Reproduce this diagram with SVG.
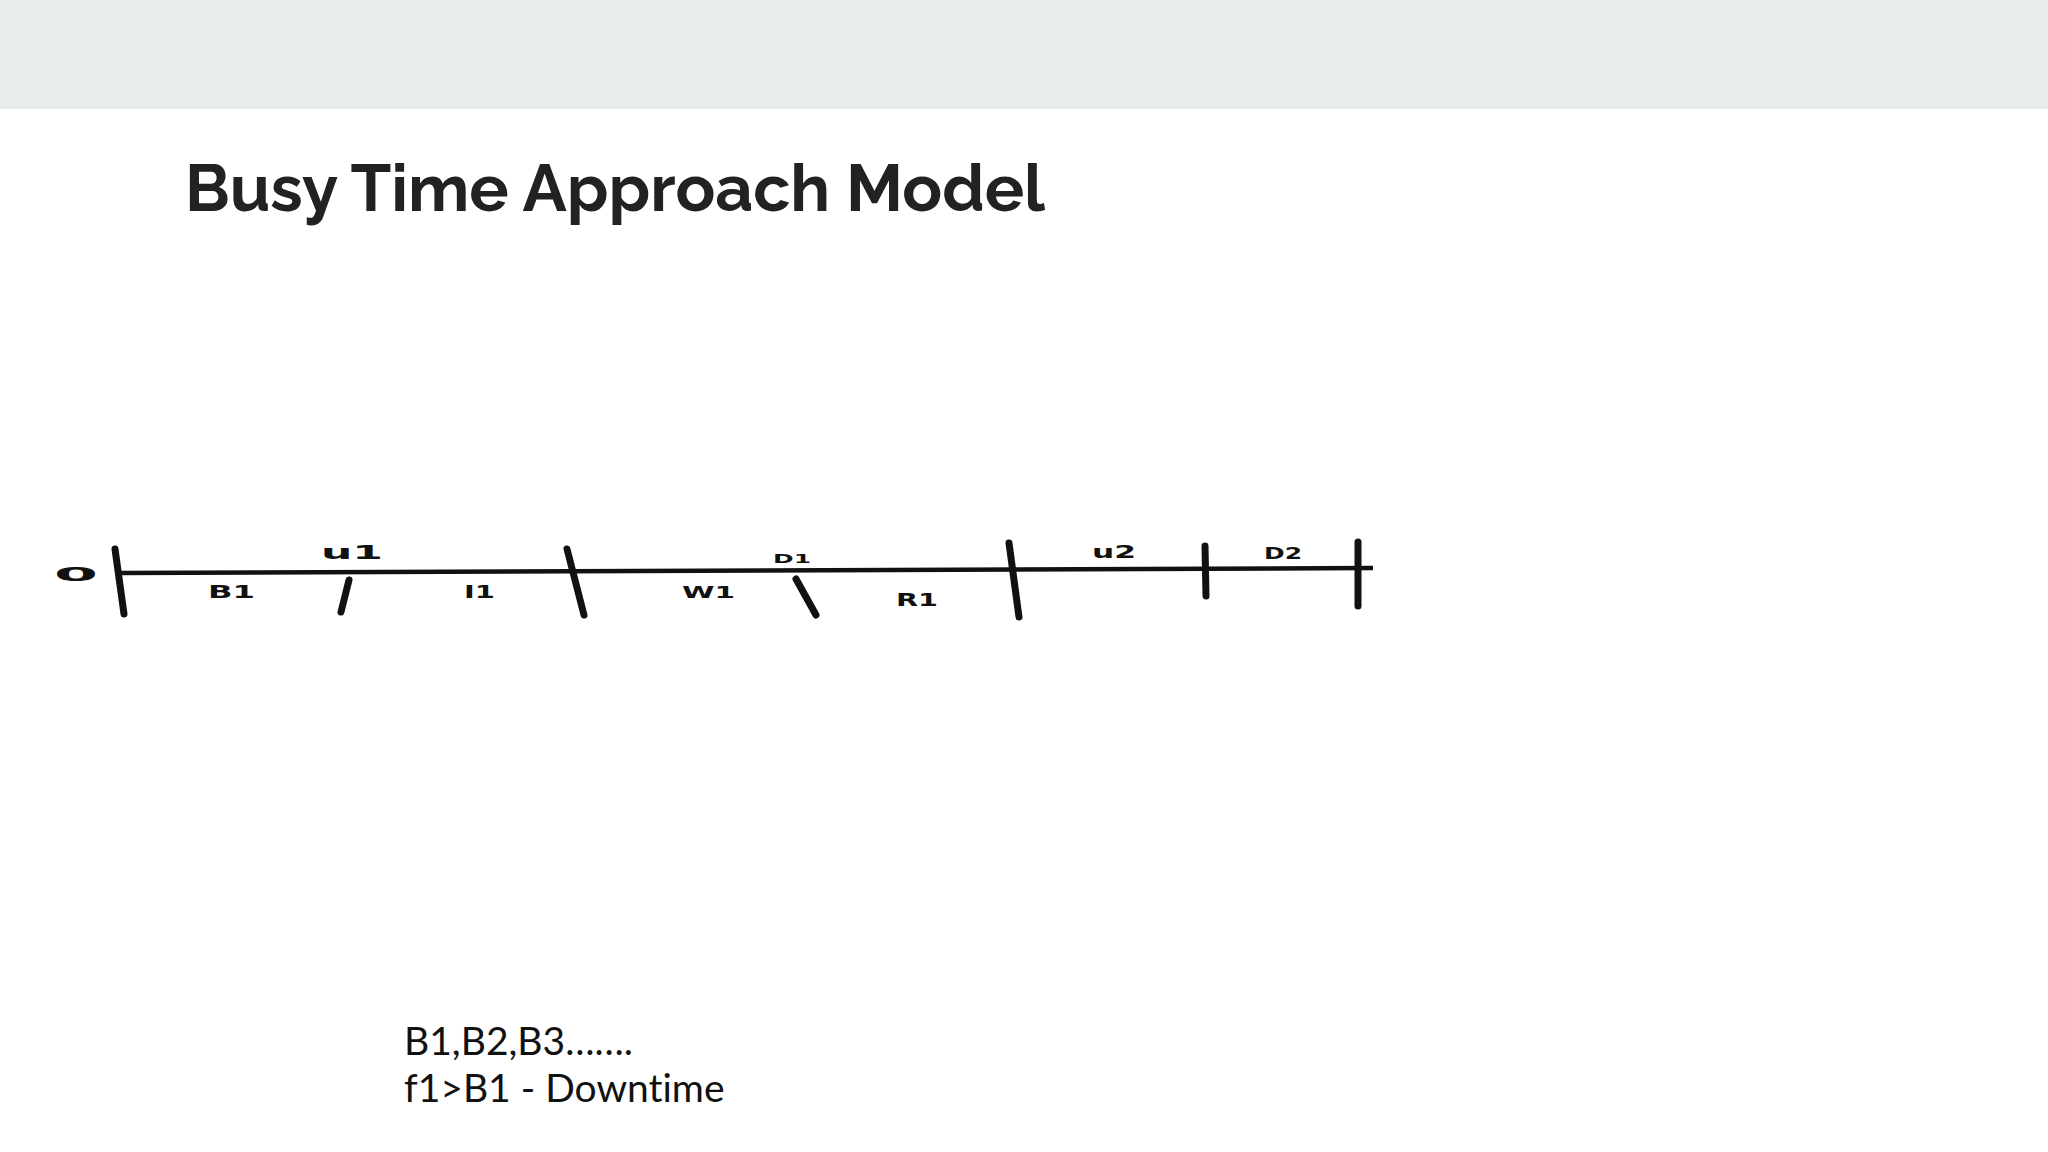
<svg xmlns="http://www.w3.org/2000/svg" width="2048" height="1152" viewBox="0 0 2048 1152">
<style>
.lbl{font-family:"DejaVu Sans","Liberation Sans",sans-serif;font-weight:bold;fill:#111;}
.tick{stroke:#111;stroke-width:7;stroke-linecap:round;fill:none;}
.axis{stroke:#111;stroke-width:4.5;fill:none;}
.note{font-family:Lato,"Liberation Sans",sans-serif;font-size:39px;fill:#111;font-variant-ligatures:none;}
</style>
<rect x="0" y="0" width="2048" height="1152" fill="#ffffff"/>
<rect id="header" x="0" y="0" width="2048" height="109" fill="#e8edeb"/>
<g id="title"><text x="185" y="211" font-family="Raleway,Lato,'Liberation Sans',sans-serif" font-weight="bold" font-size="65" fill="#222" textLength="860" lengthAdjust="spacingAndGlyphs">Busy Time Approach Model</text></g>
<g id="connectors">
<path class="axis" d="M118 573 L1373 568"/>
<path class="tick" d="M115 549 L124 614"/>
<path class="tick" d="M349 580 L341 612"/>
<path class="tick" d="M567 549 L584 615"/>
<path class="tick" d="M796 579 L816 615"/>
<path class="tick" d="M1009 543 L1019 617"/>
<path class="tick" d="M1205 546 L1206 596"/>
<path class="tick" d="M1358 542 L1358 606"/>
</g>
<g id="origin"><text class="lbl" x="54" y="581" font-size="20" textLength="44" lengthAdjust="spacingAndGlyphs">0</text></g>
<g id="u1"><text class="lbl" x="321" y="559" font-size="19" textLength="62" lengthAdjust="spacingAndGlyphs">u1</text></g>
<g id="B1"><text class="lbl" x="208" y="598" font-size="18" textLength="47" lengthAdjust="spacingAndGlyphs">B1</text></g>
<g id="I1"><text class="lbl" x="464" y="598" font-size="18" textLength="31" lengthAdjust="spacingAndGlyphs">I1</text></g>
<g id="W1"><text class="lbl" x="682" y="598" font-size="16" textLength="53" lengthAdjust="spacingAndGlyphs">W1</text></g>
<g id="D1"><text class="lbl" x="773" y="563" font-size="13" textLength="38" lengthAdjust="spacingAndGlyphs">D1</text></g>
<g id="R1"><text class="lbl" x="896" y="606" font-size="17" textLength="42" lengthAdjust="spacingAndGlyphs">R1</text></g>
<g id="u2"><text class="lbl" x="1092" y="558" font-size="18" textLength="44" lengthAdjust="spacingAndGlyphs">u2</text></g>
<g id="D2"><text class="lbl" x="1264" y="559" font-size="16" textLength="38" lengthAdjust="spacingAndGlyphs">D2</text></g>
<g id="notes">
<text class="note" x="404" y="1055">B1,B2,B3…….</text>
<text class="note" x="404" y="1102">f1&gt;B1 - Downtime</text>
</g>
</svg>
